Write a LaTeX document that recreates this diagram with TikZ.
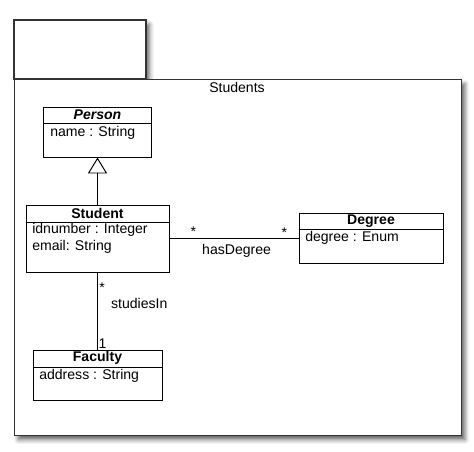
\documentclass[tikz,border=0pt]{standalone}
\usepackage{fontspec}
\setmainfont{Liberation Sans}
\usetikzlibrary{arrows.meta,shadows.blur}

\begin{document}
\begin{tikzpicture}[every node/.style={font=\fontsize{10}{12}\selectfont},
    pkg/.style={draw=black!80,line width=0.8pt,fill=white,
      blur shadow={shadow xshift=2.5pt,shadow yshift=-3pt,shadow blur radius=3pt,shadow opacity=60}},
    classbox/.style={draw,line width=0.7pt,fill=white,inner sep=0pt},
    classname/.style={font=\fontsize{10}{12}\selectfont\bfseries},
    attr/.style={anchor=west,inner sep=0pt},
    mult/.style={inner sep=1pt}]
  \useasboundingbox (0,0) rectangle (11.85,-11.3);

  % Package Students
  \draw[pkg] (0.35,-0.5) rectangle (3.65,-1.975);
  \node[pkg,inner sep=0pt,minimum width=11.175cm,minimum height=8.9cm,anchor=north west] (students) at (0.35,-1.975) {};
  \node (pkgname) at (5.925,-2.175) {Students};

  % Person
  \node[classbox,minimum width=2.7cm,minimum height=1.25cm] (person) at (2.4375,-3.3) {};
  \draw[line width=0.7pt] (person.west |- 0,-3.075) -- (person.east |- 0,-3.075);
  \node[font=\fontsize{10}{12}\selectfont\bfseries\itshape] (personname) at (2.4375,-2.875) {Person};
  \node[attr] (personattr) at (1.25,-3.32) {name : String};

  % Student
  \node[classbox,minimum width=3.575cm,minimum height=1.675cm] (student) at (2.4375,-5.9625) {};
  \draw[line width=0.7pt] (student.west |- 0,-5.55) -- (student.east |- 0,-5.55);
  \node[classname] (studentname) at (2.4375,-5.325) {Student};
  \node[attr] (studentid) at (0.8,-5.74) {idnumber : Integer};
  \node[attr] (studentmail) at (0.8,-6.18) {email: String};

  % Degree
  \node[classbox,minimum width=3.6cm,minimum height=1.25cm] (degree) at (9.275,-5.95) {};
  \draw[line width=0.7pt] (degree.west |- 0,-5.725) -- (degree.east |- 0,-5.725);
  \node[classname] (degreename) at (9.275,-5.525) {Degree};
  \node[attr] (degreeattr) at (7.625,-5.94) {degree : Enum};

  % Faculty
  \node[classbox,minimum width=3.225cm,minimum height=1.25cm] (faculty) at (2.4375,-9.375) {};
  \draw[line width=0.7pt] (faculty.west |- 0,-9.175) -- (faculty.east |- 0,-9.175);
  \node[classname] (facultyname) at (2.4375,-8.95) {Faculty};
  \node[attr] (facultyattr) at (0.975,-9.39) {address : String};

  % generalisation and associations
  \draw[line width=0.7pt,-{Triangle[open,length=0.4cm,width=0.48cm]}] (student.north) -- (person.south);
  \draw[line width=0.7pt] (student.east |- degree.west) -- (degree.west)
    node[pos=0.185,above,mult] (hasfrom) {*}
    node[pos=0.89,above,inner sep=0pt] (hasto) {*}
    node[pos=0.52,below,inner sep=4pt] (hasname) {hasDegree};
  \draw[line width=0.7pt] (student.south) -- (faculty.north)
    node[pos=0.2,right,mult] (infrom) {*}
    node[pos=0.4,right=6pt] (inname) {studiesIn}
    node[pos=1,anchor=south west,inner sep=0.5pt] (into) {1};
\end{tikzpicture}
\end{document}
